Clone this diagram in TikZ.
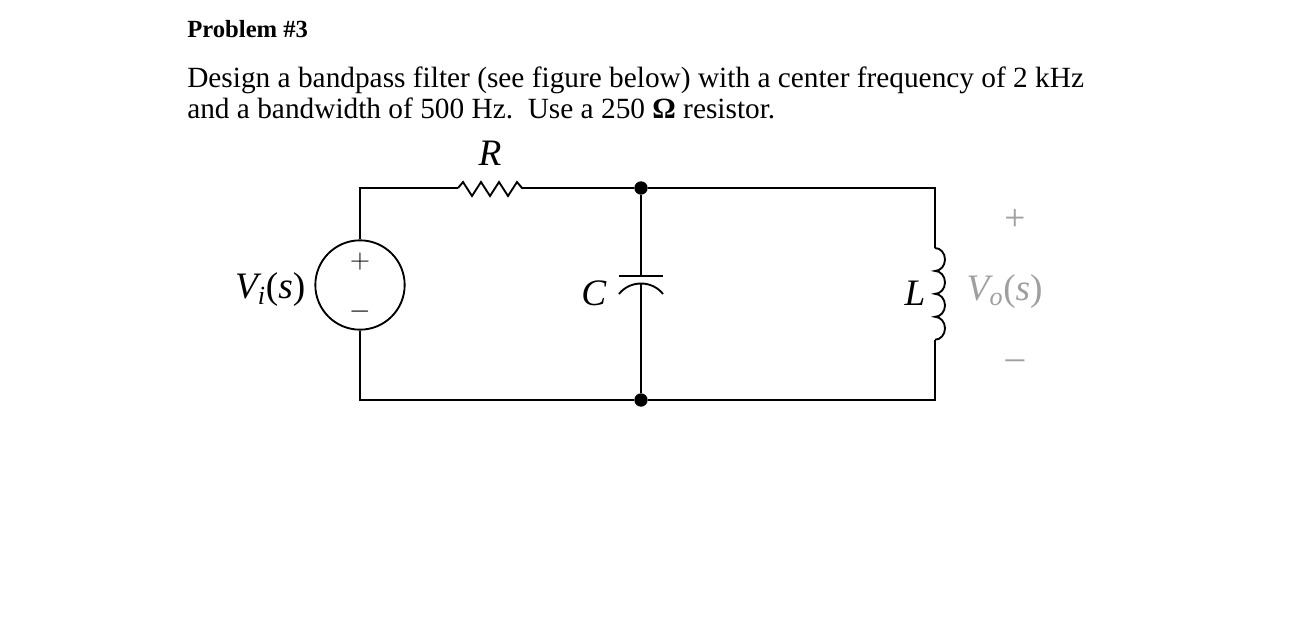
\documentclass[tikz,border=0pt]{standalone}
\usepackage{fontspec}
\setmainfont{Liberation Serif}
\begin{document}
\begin{tikzpicture}[x=0.75pt,y=-0.75pt,
  wire/.style={line width=1.4pt},
  lbl/.style={font=\fontsize{28}{32}\selectfont},
  dotn/.style={circle,fill=black,minimum size=10pt,inner sep=0pt}]
\useasboundingbox (0,0) rectangle (1290,636);
\node[anchor=base west,inner sep=0pt,font=\fontsize{18.5}{22}\selectfont\bfseries] (title) at (187,37) {Problem \#3};
\node[anchor=base west,inner sep=0pt,font=\fontsize{22}{26}\selectfont] (l1) at (187,87) {Design a bandpass filter (see figure below) with a center frequency of 2 kHz};
\node[anchor=base west,inner sep=0pt,font=\fontsize{22}{26}\selectfont] (l2) at (187,118) {and a bandwidth of 500 Hz.\ \ Use a 250 \textbf{Ω} resistor.};
% nodes
\node[dotn] (ct) at (641,188) {};
\node[dotn] (cb) at (641,400) {};
\node[draw,circle,line width=1.4pt,minimum size=67pt,inner sep=0pt] (src) at (360,285) {};
\node[font=\fontsize{22}{24}\selectfont] (sp) at (360,262) {$+$};
\node[font=\fontsize{22}{24}\selectfont] (sm) at (360,312) {$-$};
\coordinate (tl) at (360,188);
\coordinate (bl) at (360,400);
\coordinate (tr) at (935,188);
\coordinate (br) at (935,400);
\coordinate (r1) at (458,188);
\coordinate (r2) at (522,188);
\coordinate (ci1) at (641,276);
\coordinate (ci2) at (641,283);
\coordinate (l1a) at (935,248);
\coordinate (l1b) at (935,340);
% wires
\draw[wire] (src.north) -- (tl) -- (r1);
\draw[wire] (r1) -- ++(5,-6) -- ++(9,14) -- ++(9,-14) -- ++(9,14) -- ++(9,-14) -- ++(9,14) -- ++(9,-14) -- (r2) -- (ct) -- (tr) -- (l1a);
\draw[wire] (src.south) -- (bl) -- (cb) -- (br) -- (l1b);
\draw[wire] (ct) -- (ci1);
\draw[wire] (619,276) -- (663,276);
\draw[wire] (619,294) .. controls (630,280) and (652,280) .. (663,294);
\draw[wire] (ci2) -- (cb);
\draw[wire] (l1a) arc[start angle=90,end angle=-90,x radius=7.5pt,y radius=8.6pt]
  arc[start angle=90,end angle=-90,x radius=7.5pt,y radius=8.6pt]
  arc[start angle=90,end angle=-90,x radius=7.5pt,y radius=8.6pt]
  arc[start angle=90,end angle=-90,x radius=7.5pt,y radius=8.6pt];
% labels
\node[lbl] (R) at (490,153) {\textit{R}};
\node[lbl,anchor=east] (Vi) at (310,290) {\textit{V\textsubscript{i}}(\textit{s})};
\node[lbl] (C) at (594,293) {\textit{C}};
\node[lbl] (L) at (915,293) {\textit{L}};
\node[lbl,text=gray!75,anchor=west] (Vo) at (962,292) {\textit{V\textsubscript{o}}(\textit{s})};
\node[lbl,text=gray!75] (vp) at (1015,220) {+};
\node[lbl,text=gray!75] (vm) at (1015,365) {\textendash};
\end{tikzpicture}
\end{document}
